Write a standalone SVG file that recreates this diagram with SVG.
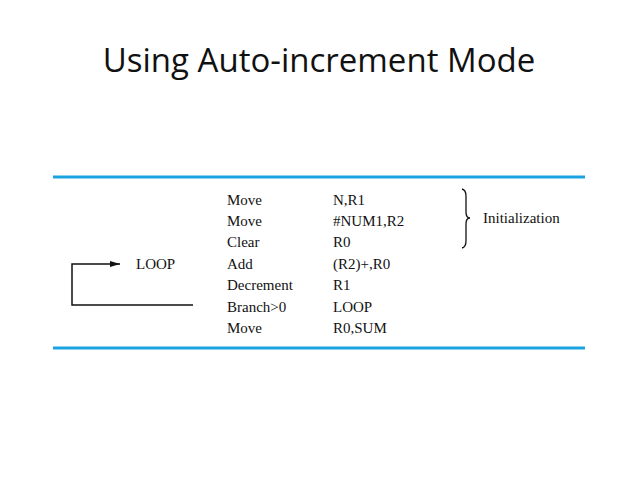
<svg xmlns="http://www.w3.org/2000/svg" width="638" height="478" viewBox="0 0 638 478">
<style>
.t{font-family:"Liberation Serif",serif;font-size:15px;fill:#111}
.rule{stroke:#1aa3e0;stroke-width:3}
</style>
<defs><marker id="ah" markerWidth="10" markerHeight="8" refX="10" refY="4" orient="auto" markerUnits="userSpaceOnUse"><path d="M0,1 L10,4 L0,7 z" fill="#111"/></marker></defs>
<rect width="638" height="478" fill="#fff"/>
<text x="319" y="72" text-anchor="middle" font-family="Open Sans, sans-serif" font-size="33" fill="#111">Using Auto-increment Mode</text>
<line class="rule" x1="53" y1="177" x2="585" y2="177"/>
<line class="rule" x1="53" y1="348" x2="585" y2="348"/>
<g id="code">
<text class="t" x="227" y="205">Move</text><text class="t" x="333" y="205">N,R1</text>
<text class="t" x="227" y="226">Move</text><text class="t" x="333" y="226">#NUM1,R2</text>
<text class="t" x="227" y="247">Clear</text><text class="t" x="333" y="247">R0</text>
<text class="t" x="136" y="269">LOOP</text>
<text class="t" x="227" y="269">Add</text><text class="t" x="333" y="269">(R2)+,R0</text>
<text class="t" x="227" y="290">Decrement</text><text class="t" x="333" y="290">R1</text>
<text class="t" x="227" y="312">Branch&gt;0</text><text class="t" x="333" y="312">LOOP</text>
<text class="t" x="227" y="333">Move</text><text class="t" x="333" y="333">R0,SUM</text>
</g>
<g id="brace">
<path d="M462,189 Q466,190 466,196 L466,212 Q466,218 470,218 Q466,218 466,224 L466,241 Q466,247 462,248" fill="none" stroke="#111" stroke-width="1.3"/>
<text class="t" x="483" y="223">Initialization</text>
</g>
<g id="connectors">
<path d="M193,305 H72 V264 H120" fill="none" stroke="#111" stroke-width="1.5" marker-end="url(#ah)"/>
</g>
</svg>
